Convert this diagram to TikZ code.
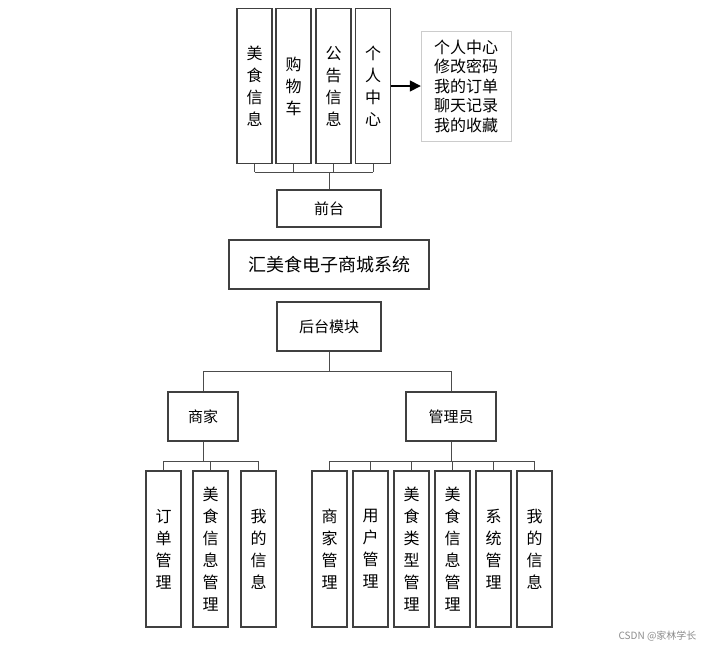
\documentclass[tikz,border=0pt]{standalone}
\usepackage{fontspec}
\setmainfont{Noto Sans CJK SC}
\usetikzlibrary{arrows.meta}
\begin{document}
\begin{tikzpicture}[x=1pt,y=-1pt,
 box/.style={draw=black!75,line width=1.2pt,fill=white,inner sep=0pt,align=center},
 vbox/.style={box,minimum width=35pt,minimum height=155pt,font=\fontsize{16}{22}\selectfont},
 hbox/.style={box,font=\fontsize{15}{18}\selectfont},
 ln/.style={draw=black!70,line width=1pt}]
\useasboundingbox (0,0) rectangle (709,649);
% top
\node[vbox] (a1) at (254.5,86) {美\\食\\信\\息};
\node[vbox] (a2) at (293.5,86) {购\\物\\车};
\node[vbox] (a3) at (333.5,86) {公\\告\\信\\息};
\node[vbox] (a4) at (373,86) {个\\人\\中\\心};
\node[draw=black!20,fill=white,minimum width=90pt,minimum height=110pt,align=left,inner sep=0pt,font=\fontsize{16}{19.5}\selectfont] (info) at (466,86) {个人中心\\修改密码\\我的订单\\聊天记录\\我的收藏};
\draw[line width=1.5pt,-{Triangle[length=11pt,width=11pt]}] (a4.east) -- (info.west);
\node[hbox,minimum width=104pt,minimum height=37pt] (qt) at (329,208.5) {前台};
\node[hbox,minimum width=200pt,minimum height=49pt,font=\fontsize{18}{22}\selectfont] (sys) at (329,264.5) {汇美食电子商城系统};
\node[hbox,minimum width=104pt,minimum height=49pt] (ht) at (329,326.5) {后台模块};
\coordinate (tb) at (329,172);
\foreach \n in {a1,a2,a3,a4}{\draw[ln] (\n.south) -- (\n.south |- tb);}
\draw[ln] (a1.south |- tb) -- (a4.south |- tb);
\draw[ln] (tb) -- (qt.north);
% middle
\node[hbox,minimum width=70pt,minimum height=49pt] (sj) at (203,416.5) {商家};
\node[hbox,minimum width=90pt,minimum height=49pt] (gl) at (451,416.5) {管理员};
\coordinate (mb) at (329,371);
\draw[ln] (ht.south) -- (mb);
\draw[ln] (sj.north) |- (mb) -| (gl.north);
% bottom
\foreach \n/\x/\t in {b1/163.5/订\\单\\管\\理, b2/210.5/美\\食\\信\\息\\管\\理, b3/258.5/我\\的\\信\\息,
  c1/329.5/商\\家\\管\\理, c2/370.5/用\\户\\管\\理, c3/411.5/美\\食\\类\\型\\管\\理,
  c4/452.5/美\\食\\信\\息\\管\\理, c5/493.5/系\\统\\管\\理, c6/534.5/我\\的\\信\\息}
  {\node[vbox,minimum height=156pt] (\n) at (\x,549) {\t};}
\coordinate (lb) at (203,461);
\coordinate (rb) at (451,461);
\draw[ln] (sj.south) -- (lb);
\draw[ln] (gl.south) -- (rb);
\draw[ln] (b1.north) |- (lb) -| (b3.north);
\draw[ln] (b2.north) -- (b2.north |- lb);
\draw[ln] (c1.north) |- (rb) -| (c6.north);
\foreach \n in {c2,c3,c4,c5}{\draw[ln] (\n.north) -- (\n.north |- rb);}
\node[text=black!45,font=\fontsize{10}{12}\selectfont,anchor=east] (wm) at (700,636) {CSDN @家林学长};
\end{tikzpicture}
\end{document}
